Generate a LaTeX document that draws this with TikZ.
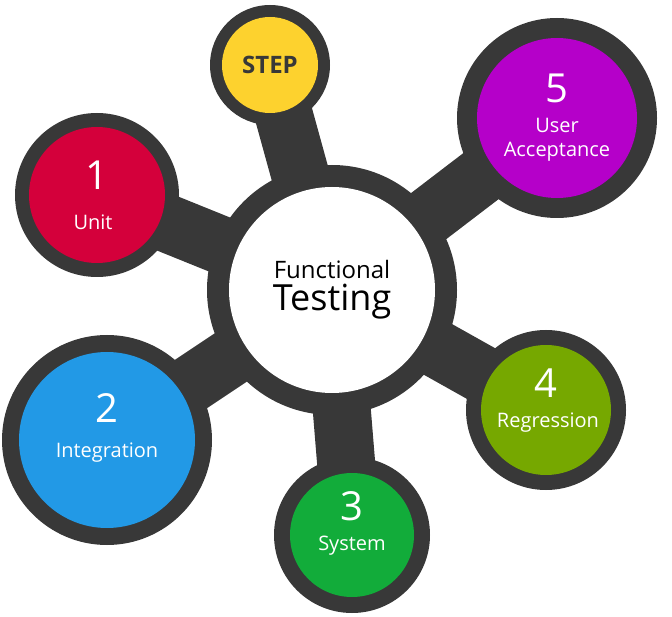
\documentclass[tikz,border=0pt]{standalone}
\usepackage{fontspec}
\setmainfont{Open Sans}
\begin{document}
\begin{tikzpicture}[x=1pt,y=-1pt,
  ring/.style={circle,fill=dark,inner sep=0pt},
  disc/.style={circle,inner sep=0pt,text=white,align=center,font=\fontsize{20}{24}\selectfont},
  link/.style={draw=dark,line width=58pt},
  num/.style={font=\fontsize{40}{40}\selectfont}]
\definecolor{dark}{HTML}{383838}
\definecolor{cyel}{HTML}{FDD22E}
\definecolor{cred}{HTML}{D4003B}
\definecolor{cpur}{HTML}{B500C9}
\definecolor{cblu}{HTML}{2299E6}
\definecolor{cgrn}{HTML}{12AC3A}
\definecolor{cole}{HTML}{76A800}
\useasboundingbox (0,0) rectangle (672,617);
% rings
\node[ring,minimum size=250pt] (rc) at (332,290) {};
\node[ring,minimum size=120pt] (rs) at (270,65) {};
\node[ring,minimum size=164pt] (r1) at (97,195) {};
\node[ring,minimum size=200pt] (r5) at (557,118) {};
\node[ring,minimum size=210pt] (r2) at (107,440) {};
\node[ring,minimum size=156pt] (r3) at (352,535) {};
\node[ring,minimum size=160pt] (r4) at (546,410) {};
% links
\foreach \t in {rs,r1,r5,r2,r3,r4}{\draw[link] (rc.center) -- (\t.center);}
% discs
\node[circle,fill=white,minimum size=206pt] (c) at (332,290) {};
\node[font=\fontsize{24}{28}\selectfont] (ct1) at (332,270) {Functional};
\node[font=\fontsize{36}{40}\selectfont] (ct2) at (332,302) {Testing};
\node[disc,fill=cyel,minimum size=96pt,text=dark,font=\bfseries\fontsize{24}{26}\selectfont] (s) at (270,65) {STEP};
\node[disc,fill=cred,minimum size=136pt] (d1) at (97,195) {};
\node[disc,fill=cpur,minimum size=160pt] (d5) at (557,118) {};
\node[disc,fill=cblu,minimum size=176pt] (d2) at (107,440) {};
\node[disc,fill=cgrn,minimum size=124pt] (d3) at (352,535) {};
\node[disc,fill=cole,minimum size=130pt] (d4) at (546,410) {};
% texts
\node[disc,num] (n1) at (97,175) {1};
\node[disc] (l1) at (93,222) {Unit};
\node[disc,num] (n5) at (557,88) {5};
\node[disc,align=center] (l5) at (557,140) {User\\Acceptance};
\node[disc,num] (n2) at (107,408) {2};
\node[disc] (l2) at (107,453) {Integration};
\node[disc,num] (n3) at (352,506) {3};
\node[disc] (l3) at (352,546) {System};
\node[disc,num] (n4) at (546,383) {4};
\node[disc] (l4) at (548,423) {Regression};
\end{tikzpicture}
\end{document}
